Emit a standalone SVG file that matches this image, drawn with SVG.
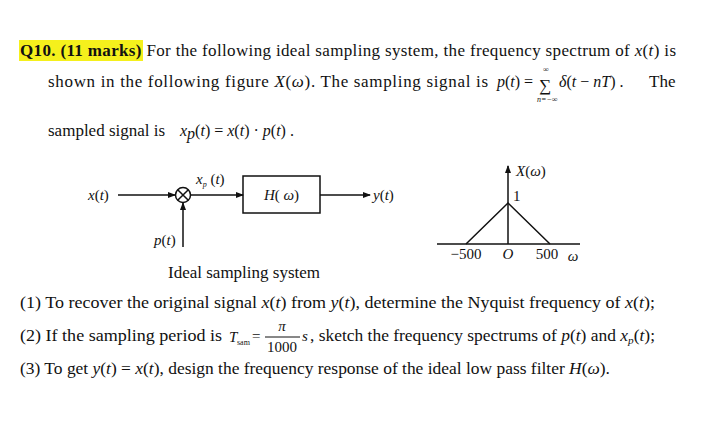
<svg xmlns="http://www.w3.org/2000/svg" width="720" height="431" viewBox="0 0 720 431">
<style>
text{font-family:"Liberation Serif",serif;fill:#111;font-size:17px}
.i{font-style:italic}
.s{font-size:15px}
.f{font-size:16px}
.xs{font-size:8px}
.ln{stroke:#111;stroke-width:1.5;fill:none}
</style>
<defs><marker id="a" markerWidth="8" markerHeight="8" refX="7" refY="4" orient="auto" markerUnits="userSpaceOnUse"><path d="M0,1 L8,4 L0,7 Z" fill="#111"/></marker></defs>
<rect width="720" height="431" fill="#fff"/>
<rect x="19" y="40" width="124" height="21" fill="#f5f01c"/>
<text x="20" y="56" textLength="656" lengthAdjust="spacing"><tspan font-weight="bold">Q10. (11 marks)</tspan> For the following ideal sampling system, the frequency spectrum of <tspan class="i">x</tspan>(<tspan class="i">t</tspan>) is</text>
<text x="48" y="87" textLength="440" lengthAdjust="spacing">shown in the following figure <tspan class="i">X</tspan>(<tspan class="i">ω</tspan>). The sampling signal is</text>
<text x="497" y="87" class="f"><tspan class="i">p</tspan>(<tspan class="i">t</tspan>) =</text>
<text x="539" y="91" font-size="24">∑</text>
<text x="543" y="72" class="xs">∞</text>
<text x="537" y="102" class="xs i">n=−∞</text>
<text x="559" y="87" class="f"><tspan class="i">δ</tspan>(<tspan class="i">t</tspan> − <tspan class="i">nT</tspan>) .</text>
<text x="649" y="87">The</text>
<text x="48" y="136">sampled signal is</text>
<text x="180" y="136" class="f"><tspan class="i">x</tspan><tspan class="i" dy="3">p</tspan><tspan dy="-3">(</tspan><tspan class="i">t</tspan>) = <tspan class="i">x</tspan>(<tspan class="i">t</tspan>) · <tspan class="i">p</tspan>(<tspan class="i">t</tspan>) .</text>
<g id="connectors">
<line class="ln" x1="118" y1="195" x2="175" y2="195" marker-end="url(#a)"/>
<line class="ln" x1="190" y1="195" x2="243" y2="195" marker-end="url(#a)"/>
<line class="ln" x1="320" y1="195" x2="370" y2="195" marker-end="url(#a)"/>
<line class="ln" x1="183" y1="247" x2="183" y2="203" marker-end="url(#a)"/>
</g>
<g id="xt"><text x="88" y="200" class="s"><tspan class="i">x</tspan>(<tspan class="i">t</tspan>)</text></g>
<g id="mult"><circle cx="183" cy="195" r="7.5" class="ln"/><path class="ln" d="M177.7,189.7 L188.3,200.3 M188.3,189.7 L177.7,200.3"/></g>
<g id="xp"><text x="196" y="184" class="s"><tspan class="i">x</tspan><tspan class="i xs" dy="3">p</tspan><tspan dy="-3"> (</tspan><tspan class="i">t</tspan>)</text></g>
<g id="H"><rect x="243" y="176" width="77" height="37" class="ln"/><text x="281.5" y="200" class="s" text-anchor="middle"><tspan class="i">H</tspan>( <tspan class="i">ω</tspan>)</text></g>
<g id="yt"><text x="373" y="200" class="s"><tspan class="i">y</tspan>(<tspan class="i">t</tspan>)</text></g>
<g id="pt"><text x="154" y="245" class="s"><tspan class="i">p</tspan>(<tspan class="i">t</tspan>)</text></g>
<g id="spectrum">
<line class="ln" x1="437" y1="244" x2="580" y2="244"/>
<line class="ln" x1="508" y1="244" x2="508" y2="166" marker-end="url(#a)"/>
<polyline class="ln" points="466,244 508,203 550,244"/>
<text x="516" y="176" class="s"><tspan class="i">X</tspan>(<tspan class="i">ω</tspan>)</text>
<text x="513" y="201" class="s">1</text>
<text x="466" y="259" class="s" text-anchor="middle">−500</text>
<text x="508" y="259" class="s i" text-anchor="middle">O</text>
<text x="547" y="259" class="s" text-anchor="middle">500</text>
<text x="573" y="261" class="s i" text-anchor="middle">ω</text>
</g>
<text x="168" y="278">Ideal sampling system</text>
<text x="20" y="308" textLength="635" lengthAdjust="spacingAndGlyphs">(1) To recover the original signal <tspan class="i">x</tspan>(<tspan class="i">t</tspan>) from <tspan class="i">y</tspan>(<tspan class="i">t</tspan>), determine the Nyquist frequency of <tspan class="i">x</tspan>(<tspan class="i">t</tspan>);</text>
<text x="20" y="341" textLength="202" lengthAdjust="spacingAndGlyphs">(2) If the sampling period is</text>
<text x="229" y="342" class="s i">T</text><text x="237" y="345" class="xs">sam</text>
<text x="252" y="341" class="s">=</text>
<line x1="265" y1="337" x2="300" y2="337" stroke="#111" stroke-width="1"/>
<text x="282" y="331" class="s i" text-anchor="middle">π</text>
<text x="282" y="352" class="s" text-anchor="middle">1000</text>
<text x="302" y="341" class="s i">s</text>
<text x="310" y="341" textLength="345" lengthAdjust="spacingAndGlyphs">, sketch the frequency spectrums of <tspan class="i">p</tspan>(<tspan class="i">t</tspan>) and <tspan class="i">x</tspan><tspan class="i" font-size="11" dy="3">p</tspan><tspan dy="-3">(</tspan><tspan class="i">t</tspan>);</text>
<text x="20" y="374" textLength="590" lengthAdjust="spacingAndGlyphs">(3) To get <tspan class="i">y</tspan>(<tspan class="i">t</tspan>) = <tspan class="i">x</tspan>(<tspan class="i">t</tspan>), design the frequency response of the ideal low pass filter <tspan class="i">H</tspan>(<tspan class="i">ω</tspan>).</text>
</svg>
